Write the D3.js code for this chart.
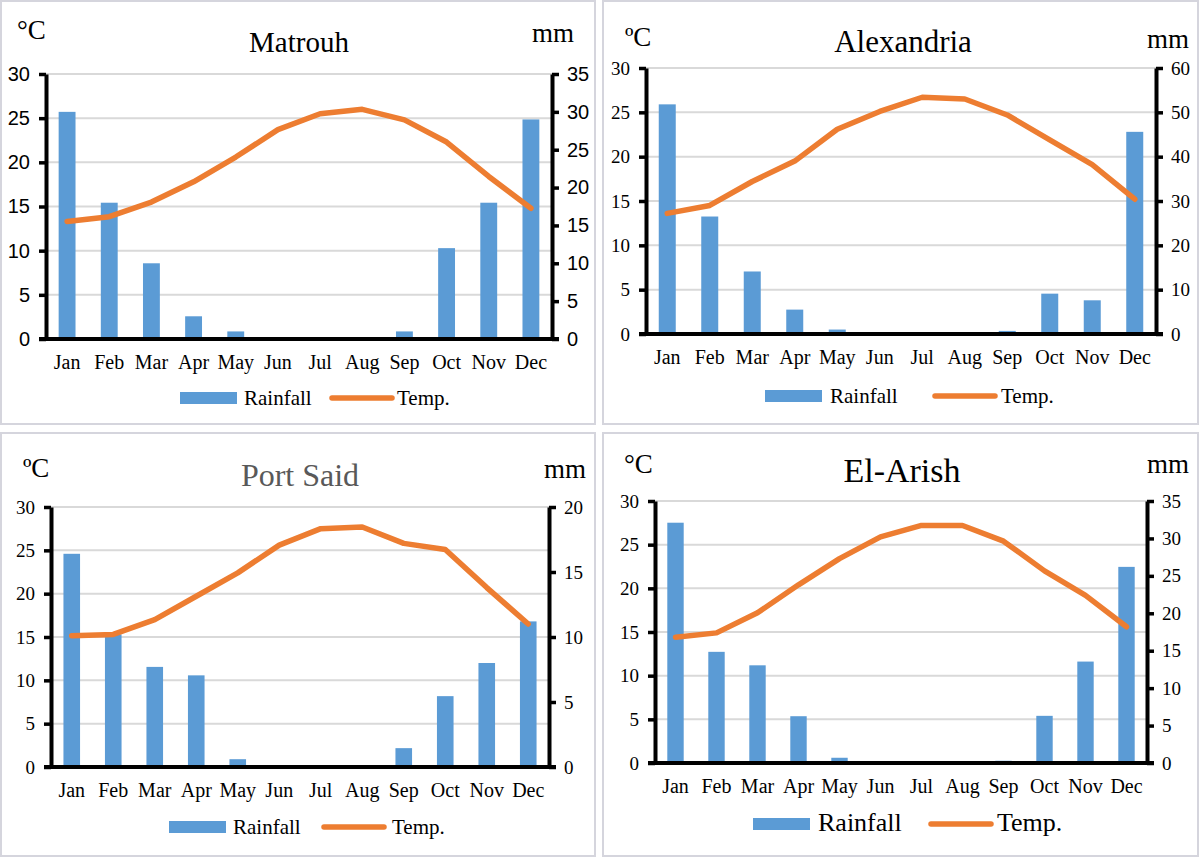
<!DOCTYPE html>
<html>
<head>
<meta charset="utf-8">
<script src="https://cdn.jsdelivr.net/npm/d3@7"></script>
<style>
  body { margin: 0; background: #fff; }
</style>
</head>
<body>
<div id="container"></div>
<script>
'use strict'
// data
const months = ["Jan","Feb","Mar","Apr","May","Jun","Jul","Aug","Sep","Oct","Nov","Dec"];

const matrouhRain = [30, 18, 10, 3, 1, 0, 0, 0, 1, 12, 18, 29];
const matrouhTemp = [13.3, 13.85, 15.5, 17.8, 20.6, 23.7, 25.5, 26.0, 24.8, 22.3, 18.4, 14.8];

const alexRain = [51.8, 26.5, 14.1, 5.5, 1.0, 0, 0, 0, 0.7, 9.1, 7.6, 45.6];
const alexTemp = [13.6, 14.5, 17.2, 19.5, 23.1, 25.1, 26.7, 26.5, 24.7, 21.9, 19.1, 15.2];

const portSaidRain = [16.4, 10.2, 7.7, 7.05, 0.6, 0, 0, 0, 1.45, 5.45, 8.0, 11.2];
const portSaidTemp = [15.15, 15.3, 17.0, 19.7, 22.4, 25.6, 27.5, 27.7, 25.8, 25.1, 20.7, 16.5];

const arishRain = [32.1, 14.85, 13.05, 6.25, 0.7, 0, 0, 0, 0.3, 6.3, 13.55, 26.2];
const arishTemp = [14.4, 14.9, 17.2, 20.4, 23.4, 25.9, 27.2, 27.2, 25.4, 22.0, 19.2, 15.6];

const tempTicks = [0, 5, 10, 15, 20, 25, 30];
const matrouhRainTicks = [0, 5, 10, 15, 20, 25, 30, 35];
const alexRainTicks = [0, 10, 20, 30, 40, 50, 60];
const portSaidRainTicks = [0, 5, 10, 15, 20];
const arishRainTicks = [0, 5, 10, 15, 20, 25, 30, 35];

const legendLabels = ["Rainfall", "Temp."];

const blue = "#5b9bd5", orange = "#ed7d31", grid = "#d9d9d9";
const serif = "'Liberation Serif', 'Times New Roman', serif";
const sans = "'Liberation Sans', Arial, sans-serif";

// layout of each panel (page coordinates)
const panels = [
  { title: "Matrouh", rain: matrouhRain, temp: matrouhTemp, rainTicks: matrouhRainTicks,
    box: [1, 1, 594, 423], plot: { l: 46, r: 552, t: 74, b: 339 }, tickFont: sans, tickSize: 20,
    titlePos: [299, 52], titleSize: 29, titleColor: "#000",
    deg: "°C", degPos: [17, 39], mmPos: [532, 42],
    legY: 398, legFont: 21, legRect: 180, legText: 244, legLine: 332, legTemp: 397 },
  { title: "Alexandria", rain: alexRain, temp: alexTemp, rainTicks: alexRainTicks,
    box: [603, 1, 595, 423], plot: { l: 646, r: 1156, t: 68, b: 334 }, tickFont: serif, tickSize: 19,
    titlePos: [903, 52], titleSize: 31, titleColor: "#000",
    deg: "ºC", degPos: [625, 46], mmPos: [1147, 48],
    legY: 396, legFont: 21, legRect: 765, legText: 830, legLine: 935, legTemp: 1001 },
  { title: "Port Said", rain: portSaidRain, temp: portSaidTemp, rainTicks: portSaidRainTicks,
    box: [1, 433, 594, 423], plot: { l: 51, r: 549, t: 507, b: 767 }, tickFont: serif, tickSize: 19,
    titlePos: [300, 486], titleSize: 32, titleColor: "#595959",
    deg: "ºC", degPos: [23, 477], mmPos: [544, 478],
    legY: 827, legFont: 21, legRect: 169, legText: 233, legLine: 324, legTemp: 392 },
  { title: "El-Arish", rain: arishRain, temp: arishTemp, rainTicks: arishRainTicks,
    box: [603, 433, 595, 423], plot: { l: 655, r: 1147, t: 501, b: 763 }, tickFont: serif, tickSize: 19,
    titlePos: [902, 482], titleSize: 34, titleColor: "#000",
    deg: "°C", degPos: [624, 473], mmPos: [1147, 473],
    legY: 824, legFont: 26, legRect: 753, legText: 818, legLine: 931, legTemp: 997 }
];

const w = 1200, h = 858;
const svg = d3.select("#container").append("svg").attr("width", w).attr("height", h)
  .style("display", "block");
svg.append("rect").attr("width", w).attr("height", h).attr("fill", "#fff");

panels.forEach(function(p) {
  const g = svg.append("g");
  const P = p.plot;

  // panel frame
  g.append("rect").attr("x", p.box[0]).attr("y", p.box[1]).attr("width", p.box[2]).attr("height", p.box[3])
    .attr("fill", "none").attr("stroke", "#d5d5dd").attr("stroke-width", 2);

  const x = d3.scaleBand().domain(months).range([P.l, P.r]);
  const yT = d3.scaleLinear().domain([0, 30]).range([P.b, P.t]);
  const yR = d3.scaleLinear().domain([0, d3.max(p.rainTicks)]).range([P.b, P.t]);

  // gridlines
  g.selectAll(".grid").data(tempTicks.slice(1)).enter().append("line")
    .attr("x1", P.l).attr("x2", P.r).attr("y1", d => yT(d)).attr("y2", d => yT(d))
    .attr("stroke", grid).attr("stroke-width", 2);

  // rainfall bars (secondary axis)
  const bw = x.bandwidth() * 0.4;
  g.selectAll(".bar").data(p.rain).enter().append("rect")
    .attr("x", (d, i) => x(months[i]) + (x.bandwidth() - bw) / 2)
    .attr("y", d => yR(d))
    .attr("width", bw)
    .attr("height", d => P.b - yR(d))
    .attr("fill", blue);

  // temperature line (primary axis)
  const line = d3.line().x((d, i) => x(months[i]) + x.bandwidth() / 2).y(d => yT(d));
  g.append("path").datum(p.temp).attr("d", line)
    .attr("fill", "none").attr("stroke", orange).attr("stroke-width", 5.5)
    .attr("stroke-linejoin", "round").attr("stroke-linecap", "round");

  // axes
  const leftAxis = d3.axisLeft(yT).tickValues(tempTicks).tickSize(7).tickSizeOuter(0).tickPadding(9);
  const ga = g.append("g").attr("transform", "translate(" + P.l + ",0)").call(leftAxis);
  const rightAxis = d3.axisRight(yR).tickValues(p.rainTicks).tickSize(7).tickSizeOuter(0).tickPadding(8);
  const gb = g.append("g").attr("transform", "translate(" + P.r + ",0)").call(rightAxis);
  [ga, gb].forEach(function(a) {
    a.select(".domain").attr("stroke", "#000").attr("stroke-width", 4);
    a.selectAll(".tick line").attr("stroke", "#000").attr("stroke-width", 3.5);
    a.selectAll(".tick text").style("font-family", p.tickFont).style("font-size", p.tickSize + "px")
      .attr("fill", "#000");
  });

  const bottomAxis = d3.axisBottom(x).tickSize(0).tickPadding(16);
  const gc = g.append("g").attr("transform", "translate(0," + P.b + ")").call(bottomAxis);
  gc.select(".domain").remove();
  gc.selectAll(".tick text").style("font-family", serif).style("font-size", "20px").attr("fill", "#000");
  g.append("line").attr("x1", P.l - 7).attr("x2", P.r + 7).attr("y1", P.b).attr("y2", P.b)
    .attr("stroke", "#000").attr("stroke-width", 4);

  // title and units
  g.append("text").text(p.title).attr("x", p.titlePos[0]).attr("y", p.titlePos[1])
    .attr("text-anchor", "middle").attr("fill", p.titleColor)
    .style("font-family", serif).style("font-size", p.titleSize + "px");
  g.append("text").text(p.deg).attr("x", p.degPos[0]).attr("y", p.degPos[1])
    .style("font-family", serif).style("font-size", "27px");
  g.append("text").text("mm").attr("x", p.mmPos[0]).attr("y", p.mmPos[1])
    .style("font-family", serif).style("font-size", "27px");

  // legend
  g.append("rect").attr("x", p.legRect).attr("y", p.legY - 6).attr("width", 57).attr("height", 12)
    .attr("fill", blue);
  g.append("text").text(legendLabels[0]).attr("x", p.legText).attr("y", p.legY + 7)
    .style("font-family", serif).style("font-size", p.legFont + "px");
  g.append("line").attr("x1", p.legLine).attr("x2", p.legLine + 60).attr("y1", p.legY).attr("y2", p.legY)
    .attr("stroke", orange).attr("stroke-width", 5.5).attr("stroke-linecap", "round");
  g.append("text").text(legendLabels[1]).attr("x", p.legTemp).attr("y", p.legY + 7)
    .style("font-family", serif).style("font-size", p.legFont + "px");
});
</script>
</body>
</html>
